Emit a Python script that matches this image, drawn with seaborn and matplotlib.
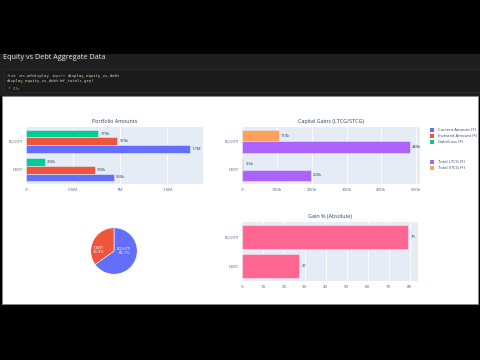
import matplotlib
matplotlib.use("Agg")
import matplotlib.pyplot as plt
import matplotlib.patches as mpatches
import pandas as pd
import seaborn as sns

# ---------------- DATA ----------------
categories = ["EQUITY", "DEBT"]

amount_series = ["Current Amount (₹)", "Invested Amount (₹)", "Gain/Loss (₹)"]
current_amount = [1740000, 930000]
invested_amount = [970000, 730000]
gain_loss = [770000, 200000]

cg_series = ["Total LTCG (₹)", "Total STCG (₹)"]
total_ltcg = [483000, 197000]
total_stcg = [106000, 3600]

gain_pct = [79.4, 27.4]
pie_share = [65.1, 34.9]

amount_ticks = [0, 500000, 1000000, 1500000]
amount_ticklabels = ["0", "0.5M", "1M", "1.5M"]
cg_ticks = [0, 100000, 200000, 300000, 400000, 500000]
cg_ticklabels = ["0", "100k", "200k", "300k", "400k", "500k"]
pct_ticks = [0, 10, 20, 30, 40, 50, 60, 70, 80]

colors = {
    "Current Amount (₹)": "#636efa",
    "Invested Amount (₹)": "#EF553B",
    "Gain/Loss (₹)": "#00cc96",
    "Total LTCG (₹)": "#ab63fa",
    "Total STCG (₹)": "#FFA15A",
}

W, H = 480, 360
FONT = ["Open Sans", "DejaVu Sans"]
TXT = "#2a3f5f"

plt.rcParams["font.family"] = FONT


def px_rect(x0, y0, x1, y1):
    # pixel box (top-left origin) -> figure fraction
    return [x0 / W, (H - y1) / H, (x1 - x0) / W, (y1 - y0) / H]


def si(v):
    r = float(f"{v:.2g}")
    if r >= 1e6:
        return f"{r / 1e6:g}M"
    if r >= 1e3:
        return f"{r / 1e3:g}k"
    return f"{r:g}"


def style_ax(ax, ticks, ticklabels, xmax):
    ax.set_facecolor("#E5ECF6")
    for s in ax.spines.values():
        s.set_visible(False)
    ax.set_xlim(0, xmax)
    ax.set_xticks(ticks)
    ax.set_xticklabels(ticklabels)
    ax.tick_params(length=0, labelsize=3.2, colors="#506784", pad=3)
    ax.tick_params(axis="y", labelsize=3, pad=2)
    ax.grid(axis="x", color="white", lw=0.6)
    ax.set_axisbelow(True)
    ax.set_xlabel("")
    ax.set_ylabel("")


def bg_rect(x0, y0, x1, y1, fc, ec="none", lw=0):
    fig.patches.append(mpatches.Rectangle((x0 / W, (H - y1) / H), (x1 - x0) / W, (y1 - y0) / H,
                                          transform=fig.transFigure, facecolor=fc,
                                          edgecolor=ec, lw=lw, zorder=-5))


fig = plt.figure(figsize=(4.8, 3.6), dpi=100, facecolor="black")

# ---------------- NOTEBOOK CHROME ----------------
bg_rect(0, 54, 480, 96, "#1f1f1f")
bg_rect(4, 69, 480, 92, "#1b1b1b", "#2e2e2e", 0.5)
bg_rect(2, 96, 478, 304, "white", "#888888", 0.6)
fig.text(3 / W, 1 - 57.5 / H, "Equity vs Debt Aggregate Data", color="#e6e6e6", fontsize=5.2,
         va="center", ha="left")

code_fs = 2.8
cw = 0.602 * code_fs / 72 * 100  # monospace char width in px
code_parts = [
    (0, 76, "from", "#c586c0"), (5, 76, "src.mfdisplay", "#cccccc"),
    (19, 76, "import", "#c586c0"), (26, 76, "display_equity_vs_debt", "#dcdcaa"),
    (0, 81, "display_equity_vs_debt", "#dcdcaa"), (22, 81, "(mf_totals_grp)", "#cccccc"),
]
for col, y, txt, c in code_parts:
    fig.text((7 + col * cw) / W, 1 - y / H, txt, color=c, fontsize=code_fs,
             family="DejaVu Sans Mono", va="center")
fig.text(7 / W, 1 - 88.5 / H, "✓", color="#89d185", fontsize=3, va="center")
fig.text(13 / W, 1 - 88.5 / H, "0.1s", color="#aaaaaa", fontsize=2.8, va="center")

# ---------------- PORTFOLIO AMOUNTS ----------------
amounts = pd.DataFrame({
    "category": categories * 3,
    "series": [s for s in amount_series for _ in categories],
    "value": current_amount + invested_amount + gain_loss,
})
bar_order = amount_series[::-1]  # plotly draws the first trace at the bottom

ax1 = fig.add_axes(px_rect(26, 127, 203, 184))
sns.barplot(data=amounts, x="value", y="category", hue="series", order=categories,
            hue_order=bar_order, palette=colors, orient="h", width=0.8, saturation=1,
            edgecolor="#E5ECF6", linewidth=0.4, legend=False, ax=ax1)
for cont in ax1.containers:
    ax1.bar_label(cont, labels=[si(b.get_width()) for b in cont], padding=1.5,
                  fontsize=3, color=TXT)
style_ax(ax1, amount_ticks, amount_ticklabels, 1880000)
ax1.set_title("Portfolio Amounts", fontsize=3.9, color=TXT, pad=3)

# ---------------- CAPITAL GAINS ----------------
gains = pd.DataFrame({
    "category": categories * 2,
    "series": [s for s in cg_series for _ in categories],
    "value": total_ltcg + total_stcg,
})
ax2 = fig.add_axes(px_rect(242, 127, 420, 184))
sns.barplot(data=gains, x="value", y="category", hue="series", order=categories,
            hue_order=cg_series[::-1], palette=colors, orient="h", width=0.8, saturation=1,
            edgecolor="#E5ECF6", linewidth=0.4, legend=False, ax=ax2)
for cont in ax2.containers:
    ax2.bar_label(cont, labels=[si(b.get_width()) for b in cont], padding=1.5,
                  fontsize=3, color=TXT)
style_ax(ax2, cg_ticks, cg_ticklabels, 511000)
ax2.set_title("Capital Gains (LTCG/STCG)", fontsize=3.9, color=TXT, pad=3)

# ---------------- GAIN % ----------------
pct = pd.DataFrame({"category": categories, "value": gain_pct})
ax3 = fig.add_axes(px_rect(242, 222, 418, 281))
sns.barplot(data=pct, x="value", y="category", order=categories, color="#FF6692",
            saturation=1, orient="h", width=0.8, edgecolor="#E5ECF6", linewidth=0.4, ax=ax3)
ax3.bar_label(ax3.containers[0], labels=[f"{v:.0f}" for v in gain_pct], padding=1.5,
              fontsize=3, color=TXT)
style_ax(ax3, pct_ticks, [str(t) for t in pct_ticks], 84)
ax3.set_title("Gain % (Absolute)", fontsize=3.9, color=TXT, pad=3)

# ---------------- PIE ----------------
ax4 = fig.add_axes(px_rect(85, 222, 143, 280))
ax4.pie(pie_share, colors=["#636efa", "#EF553B"], startangle=90, counterclock=False,
        wedgeprops=dict(edgecolor="white", linewidth=0.4))
# inside-label spots, roughly where plotly puts them
pie_text_pos = {"EQUITY": (0.44, 0.0), "DEBT": (-0.68, 0.03)}
for cat, share in zip(categories, pie_share):
    tx, ty = pie_text_pos[cat]
    ax4.text(tx, ty, f"{cat}\n{share:.1f}%", ha="center", va="center",
             fontsize=3, color="white", linespacing=1.1)
ax4.set_aspect("equal")

# ---------------- LEGEND ----------------
legend_rows = [(amount_series[0], 130), (amount_series[1], 136), (amount_series[2], 142),
               (cg_series[0], 162), (cg_series[1], 168)]
for name, y in legend_rows:
    fig.patches.append(mpatches.Rectangle((430 / W, 1 - (y + 2) / H), 4 / W, 4 / H,
                                          transform=fig.transFigure, facecolor=colors[name],
                                          edgecolor="none", zorder=3))
    fig.text(438 / W, 1 - y / H, name, fontsize=3, color=TXT, va="center", ha="left")

fig.savefig("out.png", dpi=100, facecolor="black")
